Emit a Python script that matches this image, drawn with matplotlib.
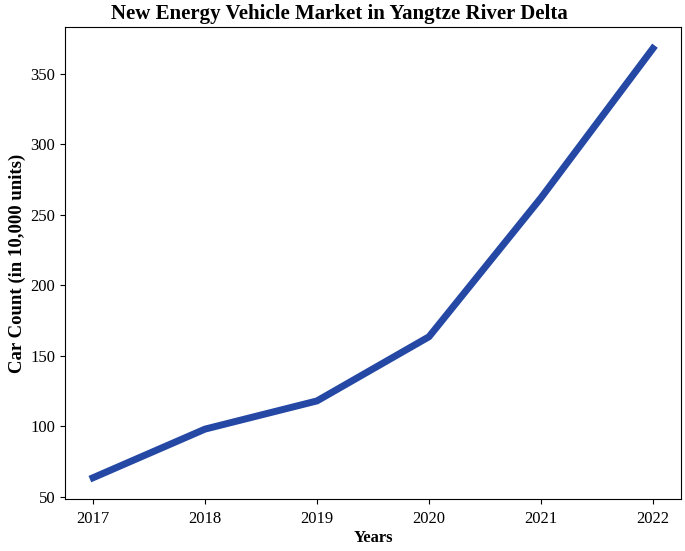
import matplotlib
matplotlib.use("Agg")
import matplotlib.pyplot as plt

# New energy vehicle counts, Yangtze River Delta (in 10,000 units)
years = [2017, 2018, 2019, 2020, 2021, 2022]
car_counts = [63.5, 98, 118, 163.5, 262, 368]

plt.rcParams["font.family"] = ["Liberation Serif", "DejaVu Serif"]

fig = plt.figure(figsize=(6.85, 5.51), dpi=100)
ax = fig.add_axes([0.095, 0.094, 0.899, 0.857])

ax.plot(years, car_counts, color="#2448a4", linewidth=5)

# title sits over the figure centre, not the axes centre
fig.text(0.495, 0.993, "New Energy Vehicle Market in Yangtze River Delta",
         ha="center", va="top", fontsize=15, fontweight="bold")
ax.set_xlabel("Years", fontsize=12, fontweight="bold", labelpad=2)
ax.set_ylabel("Car Count (in 10,000 units)", fontsize=13.5, fontweight="bold",
              labelpad=3)
ax.set_xticks(years)
ax.set_yticks([50, 100, 150, 200, 250, 300, 350])
ax.tick_params(labelsize=12)
ax.tick_params(axis="x", pad=5)

fig.savefig("out.png", dpi=100)
